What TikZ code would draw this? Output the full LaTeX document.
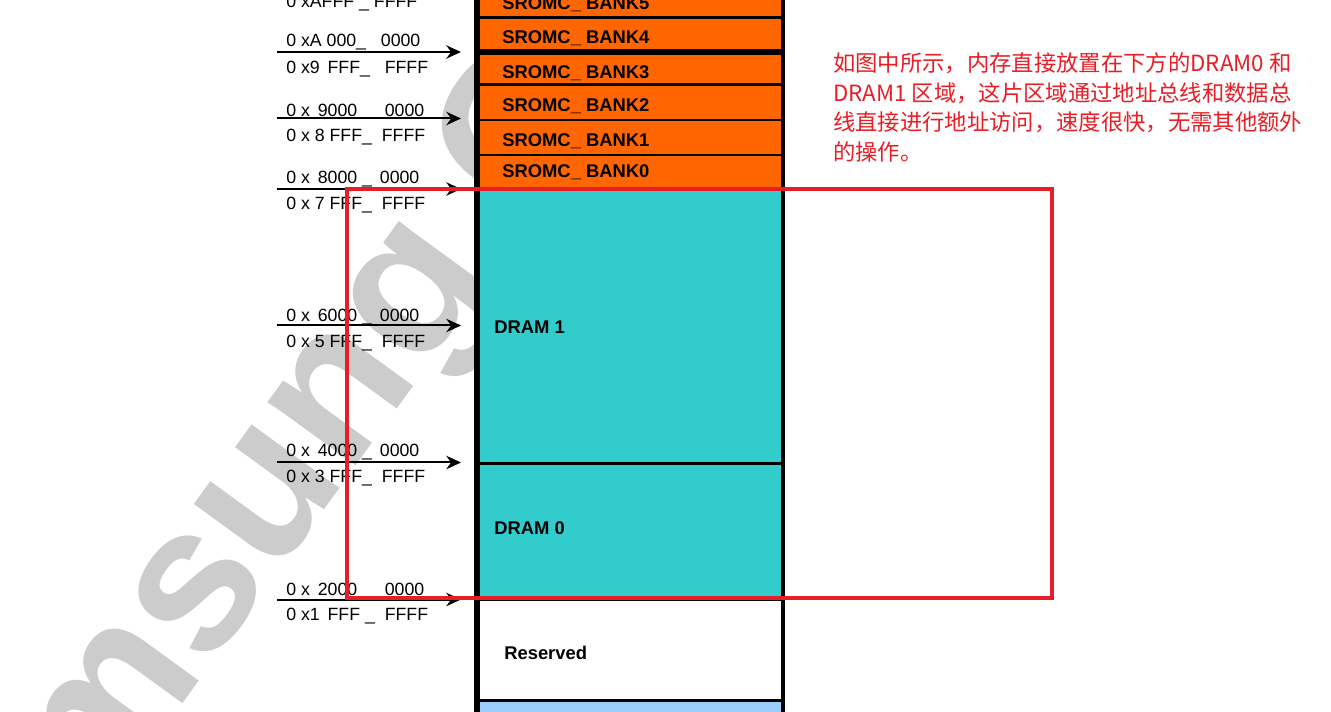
\documentclass[tikz,border=0pt]{standalone}
\usepackage{fontspec}
\setmainfont{Liberation Sans}
\newfontfamily\cjkfont{Noto Sans CJK SC}
\usetikzlibrary{arrows.meta, positioning}
\definecolor{bankorange}{RGB}{255, 102, 0}
\definecolor{dramteal}{RGB}{51, 204, 204}
\definecolor{lightblue}{RGB}{153, 204, 255}
\definecolor{markred}{RGB}{232, 30, 38}
\definecolor{watergray}{RGB}{204, 204, 204}

\begin{document}
\begin{tikzpicture}[
    x=0.75pt, y=-0.75pt,
    addr/.style={anchor=base west, inner sep=0pt, font=\fontsize{13.3}{13.3}\selectfont},
    region/.style={anchor=base west, inner sep=0pt, font=\fontsize{13.8}{13.8}\selectfont\bfseries},
    note/.style={anchor=base west, inner sep=0pt, text=markred, font=\cjkfont\fontsize{16.75}{16.75}\selectfont},
    arrow/.style={line width=1.5pt, -{Stealth[length=11pt, width=10pt]}, draw=black},
    frame/.style={draw=markred, line width=2.6pt}
]
\useasboundingbox (0,0) rectangle (1331,712);
\fill[white] (0,0) rectangle (1331,712);

% watermark
\begin{scope}
\clip (0,0) rectangle (1331,712);
\node (mark) [anchor=base west, inner sep=0pt, rotate=54, text=watergray, font=\fontsize{154}{154}\selectfont\bfseries] at (-48,1022) {Samsung C};
\end{scope}

% memory map column
\fill[black] (474,-10) rectangle (785,722);
\fill[bankorange] (480,-10) rectangle (781,16);
\fill[bankorange] (480,19) rectangle (781,49);
\fill[bankorange] (480,55) rectangle (781,83);
\fill[bankorange] (480,86) rectangle (781,119);
\fill[bankorange] (480,121) rectangle (781,154);
\fill[bankorange] (480,156) rectangle (781,187);
\fill[dramteal] (480,190) rectangle (781,462);
\fill[dramteal] (480,465) rectangle (781,597);
\fill[white] (480,601) rectangle (781,699);
\fill[lightblue] (480,702) rectangle (781,722);

\node (bank5) [region] at (502,10) {SROMC\_ BANK5};
\node (bank4) [region] at (502,44) {SROMC\_ BANK4};
\node (bank3) [region] at (502,79) {SROMC\_ BANK3};
\node (bank2) [region] at (502,112) {SROMC\_ BANK2};
\node (bank1) [region] at (502,147) {SROMC\_ BANK1};
\node (bank0) [region] at (502,178) {SROMC\_ BANK0};
\node (dram1) [region] at (494,334) {DRAM 1};
\node (dram0) [region] at (494,534) {DRAM 0};
\node (reserved) [region] at (504,659) {Reserved};

% address marks
\node (topaddr) [addr] at (286,8) {0 xAFFF \_ FFFF};
\node (hiA) [addr] at (286,47) {0 xA 000\_ \ \ 0000};
\node (lo9) [addr] at (286,74) {0 x9 \,FFF\_ \ \ FFFF};
\node (hi9) [addr] at (286,117) {0 x \,9000 \ \ \ \ \,0000};
\node (lo8) [addr] at (286,142) {0 x 8 FFF\_ \ FFFF};
\node (hi8) [addr] at (286,184) {0 x \,8000 \_ \,0000};
\node (lo7) [addr] at (286,210) {0 x 7 FFF\_ \ FFFF};
\node (hi6) [addr] at (286,322) {0 x \,6000 \_ \,0000};
\node (lo5) [addr] at (286,348) {0 x 5 FFF\_ \ FFFF};
\node (hi4) [addr] at (286,457) {0 x \,4000 \_ \,0000};
\node (lo3) [addr] at (286,483) {0 x 3 FFF\_ \ FFFF};
\node (hi2) [addr] at (286,595) {0 x \,2000 \ \ \ \ \,0000};
\node (lo1) [addr] at (286,620) {0 x1 \,FFF \_ \ FFFF};

\coordinate (fromA) at (277,52);
\coordinate (toA) at (461,52);
\coordinate (from9) at (277,118.5);
\coordinate (to9) at (461,118.5);
\coordinate (from8) at (277,189);
\coordinate (to8) at (461,189);
\coordinate (from6) at (277,325.5);
\coordinate (to6) at (461,325.5);
\coordinate (from4) at (277,462.5);
\coordinate (to4) at (461,462.5);
\coordinate (from2) at (277,599.5);
\coordinate (to2) at (461,599.5);

\draw [arrow] (fromA) -- (toA);
\draw [arrow] (from9) -- (to9);
\draw [arrow] (from8) -- (to8);
\draw [arrow] (from6) -- (to6);
\draw [arrow] (from4) -- (to4);
\draw [arrow] (from2) -- (to2);

% highlight of the DRAM area
\draw [frame] (347,189) rectangle (1052,598);

\node (note1) [note] at (833,71.5) {如图中所示，内存直接放置在下方的DRAM0 和};
\node (note2) [note] at (833,101.5) {DRAM1 区域，这片区域通过地址总线和数据总};
\node (note3) [note] at (833,131) {线直接进行地址访问，速度很快，无需其他额外};
\node (note4) [note] at (833,160.5) {的操作。};

\end{tikzpicture}
\end{document}
